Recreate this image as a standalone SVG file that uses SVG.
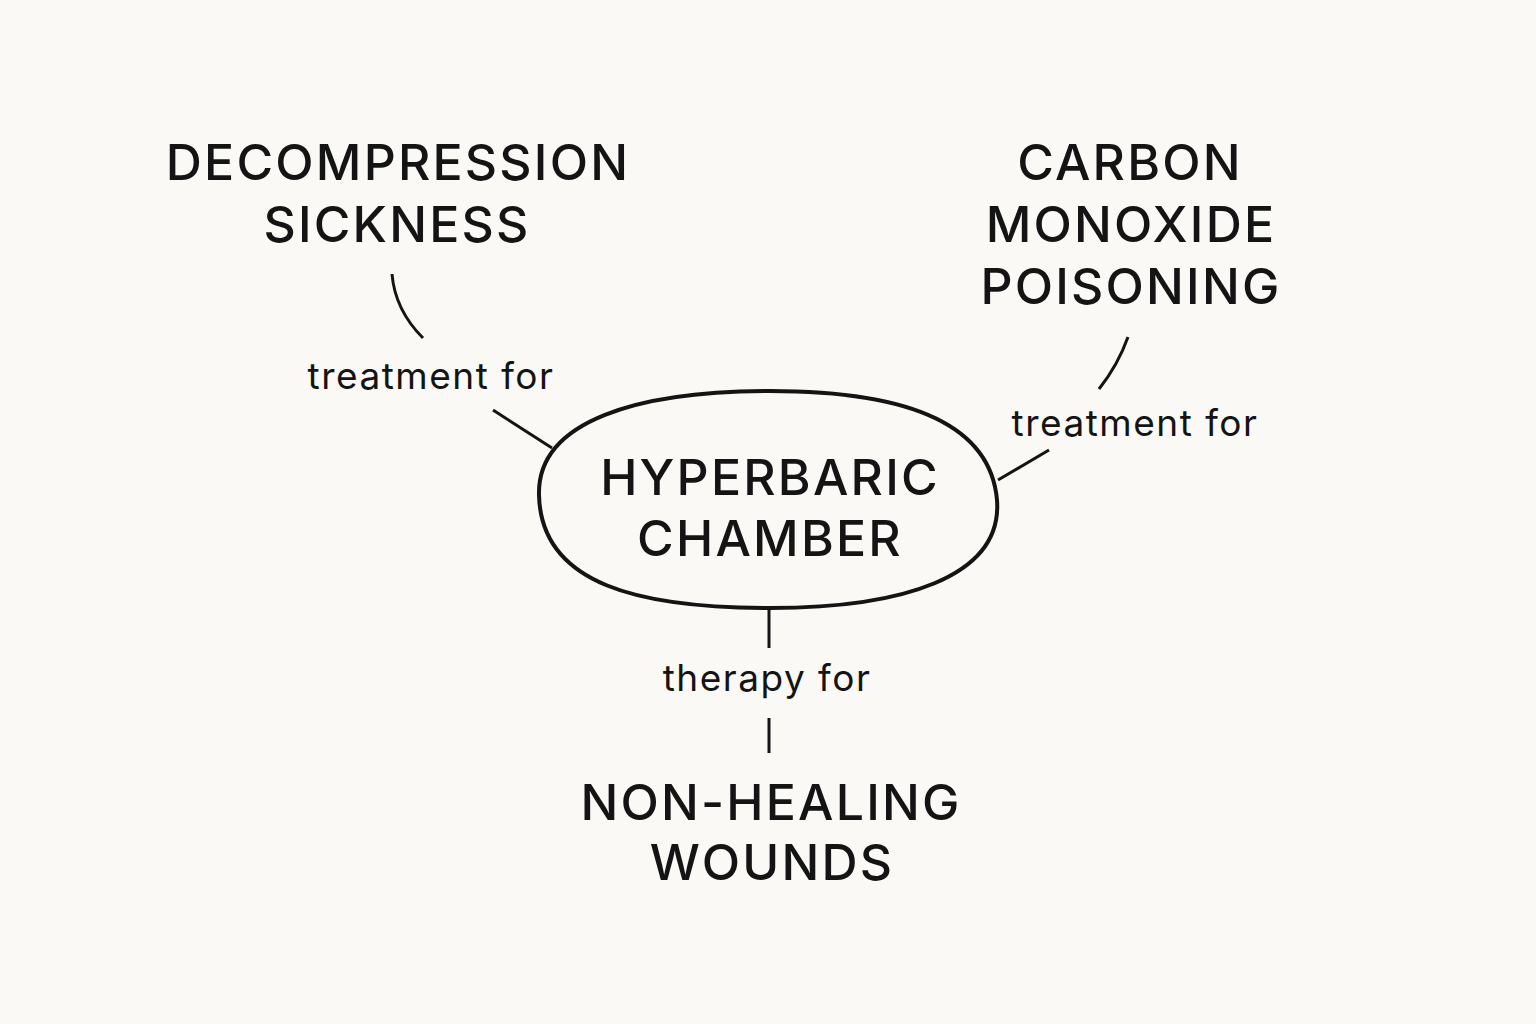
<svg xmlns="http://www.w3.org/2000/svg" width="1536" height="1024" viewBox="0 0 1536 1024">
<style>
.bg{fill:#faf9f5}
.title{font-family:Inter,"Liberation Sans",sans-serif;font-weight:550;font-size:50px;fill:#141414;text-anchor:middle;letter-spacing:2.2px}
.lbl{font-family:Inter,"Liberation Sans",sans-serif;font-weight:400;font-size:37px;fill:#141414;text-anchor:middle;letter-spacing:1.5px}
.edge{fill:none;stroke:#141414;stroke-width:3;stroke-linecap:butt}
.shape{fill:none;stroke:#141414;stroke-width:4}
</style>
<rect class="bg" x="0" y="0" width="1536" height="1024"/>
<g id="connectors">
<path class="edge" d="M392 274 Q395 310 423 338"/>
<path class="edge" d="M493 410 L552 448"/>
<path class="edge" d="M1128 337 Q1118 365 1099 389"/>
<path class="edge" d="M1049 450 L998 480"/>
<path class="edge" d="M769 610 L769 648"/>
<path class="edge" d="M769 718 L769 753"/>
<text class="lbl" x="431" y="389">treatment for</text>
<text class="lbl" x="1135" y="436">treatment for</text>
<text class="lbl" x="767" y="691">therapy for</text>
</g>
<g id="hyperbaric-chamber">
<path class="shape" d="M539 495 C537 420 640 391 770 391 C900 391 990 420 997 500 C1003 578 900 608 770 608 C640 608 541 585 539 495 Z"/>
<text class="title" x="770" y="495">HYPERBARIC</text>
<text class="title" x="770" y="556">CHAMBER</text>
</g>
<g id="decompression-sickness">
<text class="title" x="398" y="180">DECOMPRESSION</text>
<text class="title" x="397" y="242">SICKNESS</text>
</g>
<g id="carbon-monoxide-poisoning">
<text class="title" x="1130" y="180">CARBON</text>
<text class="title" x="1131" y="242">MONOXIDE</text>
<text class="title" x="1131" y="304">POISONING</text>
</g>
<g id="non-healing-wounds">
<text class="title" x="771" y="820">NON-HEALING</text>
<text class="title" x="772" y="880">WOUNDS</text>
</g>
</svg>
